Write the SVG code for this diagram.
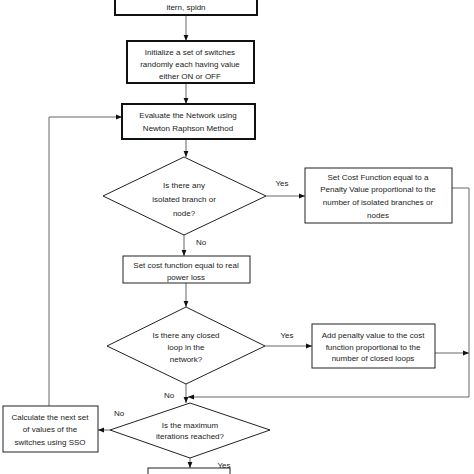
<svg xmlns="http://www.w3.org/2000/svg" width="474" height="474" viewBox="0 0 474 474">
<style>
.t{font-family:"Liberation Sans",Arial,sans-serif;font-size:8px;fill:#222;text-anchor:middle}
.thick{fill:#fff;stroke:#111;stroke-width:2}
.thin{fill:#fff;stroke:#222;stroke-width:1}
.c{fill:none;stroke:#666;stroke-width:1}
</style>
<defs>
<marker id="a" viewBox="0 0 10 10" refX="10" refY="5" markerWidth="6" markerHeight="6" orient="auto" markerUnits="userSpaceOnUse">
<path d="M0,1 L10,5 L0,9 Z" fill="#111"/>
</marker>
</defs>
<rect width="474" height="474" fill="#fff"/>
<g id="connectors">
<path class="c" d="M186,15 V41" marker-end="url(#a)"/>
<path class="c" d="M186,83 V104" marker-end="url(#a)"/>
<path class="c" d="M186,139 V157" marker-end="url(#a)"/>
<path class="c" d="M266,196 H305" marker-end="url(#a)"/>
<path class="c" d="M184,235 V256" marker-end="url(#a)"/>
<path class="c" d="M186,283 V307" marker-end="url(#a)"/>
<path class="c" d="M265,346 H312" marker-end="url(#a)"/>
<path class="c" d="M452,188 H469 V397 H188" marker-end="url(#a)"/>
<path class="c" d="M435,353 H469" marker-end="url(#a)"/>
<path class="c" d="M186,384 V403" marker-end="url(#a)"/>
<path class="c" d="M110,430 H98" marker-end="url(#a)"/>
<path class="c" d="M190,458 V468" marker-end="url(#a)"/>
<path class="c" d="M49,406 V117 H122" marker-end="url(#a)"/>
<text class="t" x="282" y="186">Yes</text>
<text class="t" x="201" y="245">No</text>
<text class="t" x="287" y="338">Yes</text>
<text class="t" x="169" y="398">No</text>
<text class="t" x="119" y="416">No</text>
<text class="t" x="224" y="468">Yes</text>
</g>
<g id="start">
<rect class="thick" x="115" y="-5" width="142" height="20"/>
<text class="t" x="186" y="10">itern, spidn</text>
</g>
<g id="init">
<rect class="thick" x="127" y="41" width="127" height="42"/>
<text class="t" x="190" y="55">Initialize a set of switches</text>
<text class="t" x="190" y="67">randomly each having value</text>
<text class="t" x="190" y="79">either ON or OFF</text>
</g>
<g id="evaluate">
<rect class="thick" x="122" y="104" width="133" height="35"/>
<text class="t" x="188" y="118">Evaluate the Network using</text>
<text class="t" x="188" y="131">Newton Raphson Method</text>
</g>
<g id="isolated">
<polygon class="thin" points="184,157 266,196 184,235 103,196"/>
<text class="t" x="184" y="188">Is there any</text>
<text class="t" x="184" y="202">isolated branch or</text>
<text class="t" x="184" y="216">node?</text>
</g>
<g id="penalty1">
<rect class="thin" x="305" y="168" width="147" height="55"/>
<text class="t" x="378" y="180">Set Cost Function equal to a</text>
<text class="t" x="378" y="192">Penalty Value proportional to the</text>
<text class="t" x="378" y="205">number of isolated branches or</text>
<text class="t" x="378" y="218">nodes</text>
</g>
<g id="realloss">
<rect class="thin" x="123" y="256" width="127" height="27"/>
<text class="t" x="186" y="268">Set cost function equal to real</text>
<text class="t" x="186" y="280">power loss</text>
</g>
<g id="closedloop">
<polygon class="thin" points="186,307 265,346 186,384 107,346"/>
<text class="t" x="186" y="338">Is there any closed</text>
<text class="t" x="186" y="350">loop in the</text>
<text class="t" x="186" y="362">network?</text>
</g>
<g id="penalty2">
<rect class="thin" x="312" y="324" width="123" height="44"/>
<text class="t" x="373" y="338">Add penalty value to the cost</text>
<text class="t" x="373" y="350">function proportional to the</text>
<text class="t" x="373" y="361">number of closed loops</text>
</g>
<g id="maxiter">
<polygon class="thin" points="190,403 270,430 190,458 110,430"/>
<text class="t" x="190" y="428">Is the maximum</text>
<text class="t" x="190" y="439">iterations reached?</text>
</g>
<g id="sso">
<rect class="thin" x="3" y="406" width="95" height="46"/>
<text class="t" x="50" y="420">Calculate the next set</text>
<text class="t" x="50" y="432">of values of the</text>
<text class="t" x="50" y="445">switches using SSO</text>
</g>
<g id="end">
<rect class="thin" x="148" y="468" width="82" height="12"/>
</g>
</svg>
